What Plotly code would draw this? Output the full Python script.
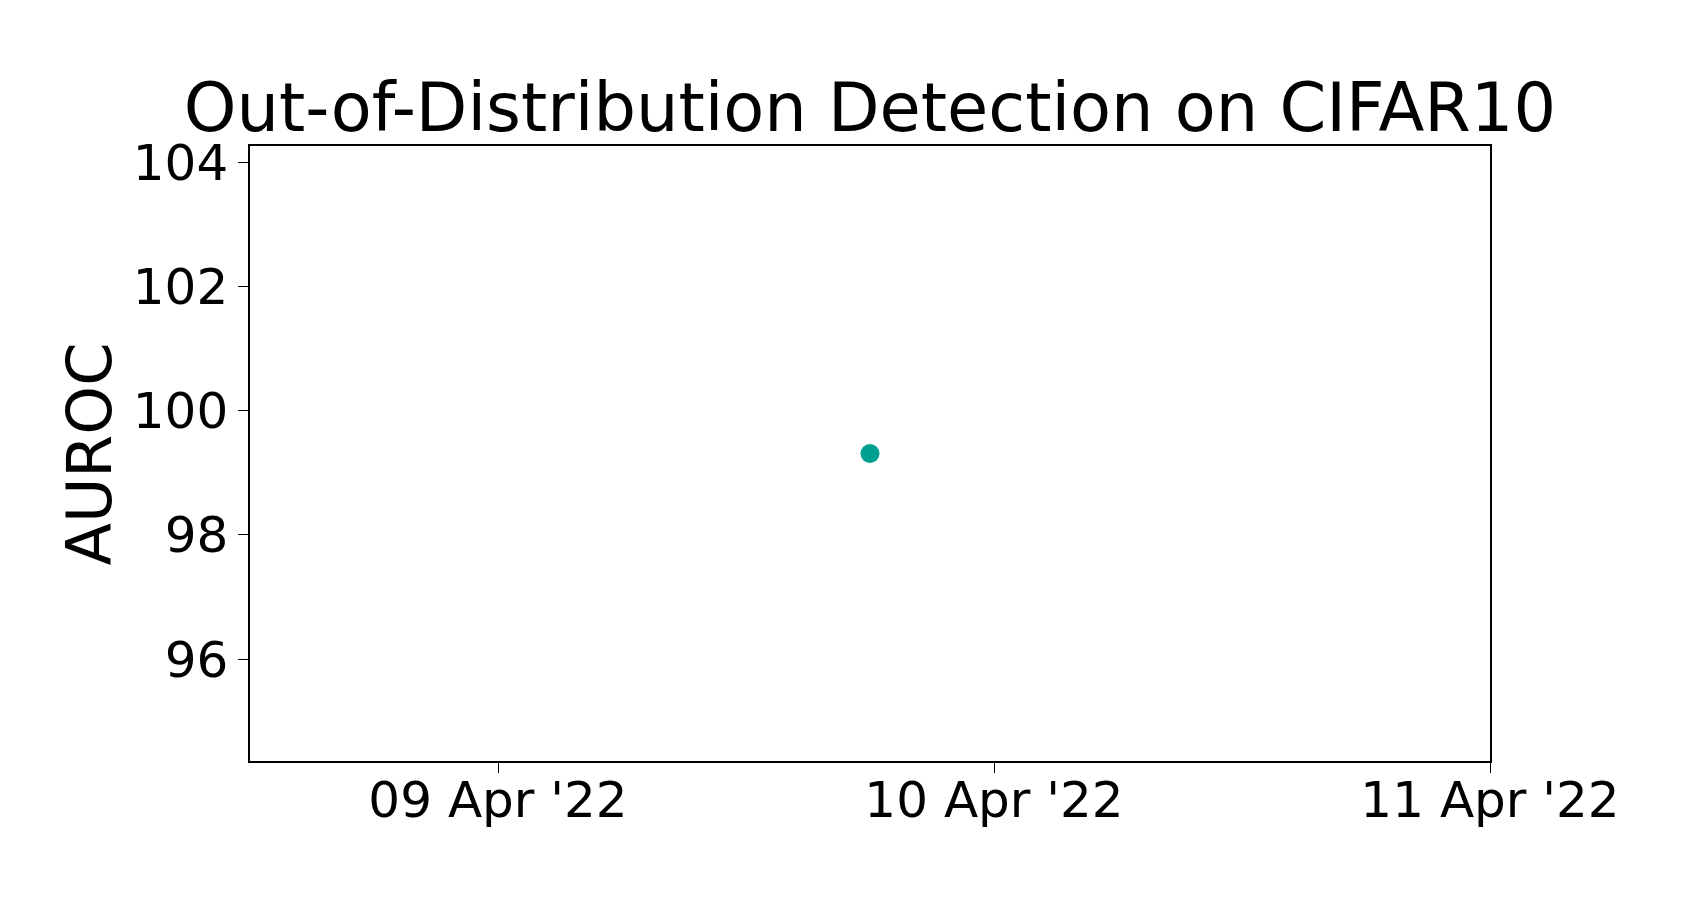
import plotly.graph_objects as go

dates = ["2022-04-09 18:00"]
auroc = [99.31]
x_range = ["2022-04-08 12:00", "2022-04-11 00:00"]
y_range = [94.36, 104.26]
y_ticks = [96, 98, 100, 102, 104]
x_ticks = ["2022-04-09", "2022-04-10", "2022-04-11"]
x_tick_labels = ["09 Apr '22", "10 Apr '22", "11 Apr '22"]

FONT = "DejaVu Sans"

fig = go.Figure()
fig.add_trace(go.Scatter(
    x=dates, y=auroc, mode="markers",
    marker=dict(color="#00A090", size=19, line=dict(width=0)),
    showlegend=False,
))

fig.update_layout(
    width=1700, height=900,
    margin=dict(l=242, r=218, t=138, b=147),
    paper_bgcolor="white", plot_bgcolor="white",
    font=dict(family=FONT, color="black", size=50),
    title=dict(text="Out-of-Distribution Detection on CIFAR10",
               font=dict(family=FONT, size=67, color="black"),
               x=0.5, xref="paper", xanchor="center",
               y=1 - 100 / 900, yref="container", yanchor="middle"),
    annotations=[dict(text="AUROC", textangle=-90, showarrow=False,
                      xref="paper", yref="paper", x=(89 - 250) / 1240, y=0.5,
                      xanchor="center", yanchor="middle",
                      font=dict(family=FONT, size=62, color="black"))],
)

fig.update_xaxes(
    type="date", range=x_range,
    tickvals=x_ticks, ticktext=x_tick_labels,
    showgrid=False, zeroline=False,
    showline=True, linecolor="black", linewidth=1.5, mirror=True,
    ticks="outside", ticklen=10, tickwidth=1.2, tickcolor="black",
    ticklabelstandoff=-16,
    tickfont=dict(family=FONT, size=50, color="black"),
)
fig.update_yaxes(
    range=y_range, tickvals=y_ticks,
    showgrid=False, zeroline=False,
    showline=True, linecolor="black", linewidth=1.5, mirror=True,
    ticks="outside", ticklen=10, tickwidth=1.2, tickcolor="black",
    tickfont=dict(family=FONT, size=50, color="black"),
)

fig.write_html("out.html")
